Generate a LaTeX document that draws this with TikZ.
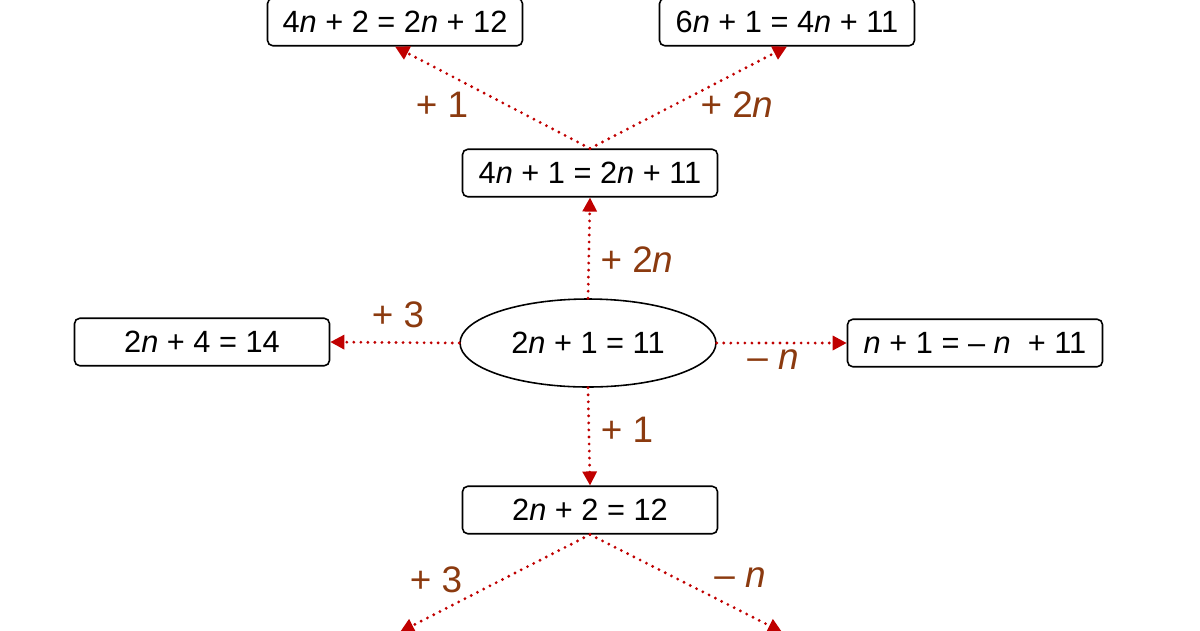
\documentclass[tikz,border=0pt]{standalone}
\usepackage{fontspec}
\setmainfont{Liberation Sans}
\usetikzlibrary{shapes.geometric,arrows.meta}
\begin{document}
\begin{tikzpicture}[x=0.02cm,y=-0.02cm,
  eq/.style={draw,rounded corners=3pt,line width=0.9pt,minimum width=5.1cm,minimum height=0.95cm,font=\fontsize{17.5}{19}\selectfont,inner sep=0pt},
  ell/.style={draw,ellipse,line width=0.9pt,minimum width=5.12cm,minimum height=1.76cm,font=\fontsize{17.5}{19}\selectfont},
  arr/.style={draw={rgb,255:red,192;green,0;blue,0},line width=1.8pt,dash pattern=on 0pt off 4pt,line cap=round,-{Triangle[length=8pt,width=8pt,line cap=butt]}},
  lab/.style={text={rgb,255:red,139;green,58;blue,15},font=\fontsize{21}{24}\selectfont}]
\useasboundingbox (0,0) rectangle (1200,630);
\node[eq] (tl) at (395,22) {4\textit{n} + 2 = 2\textit{n} + 12};
\node[eq] (tr) at (787,22) {6\textit{n} + 1 = 4\textit{n} + 11};
\node[eq] (mt) at (590,173) {4\textit{n} + 1 = 2\textit{n} + 11};
\node[ell] (c) at (588,343) {2\textit{n} + 1 = 11};
\node[eq] (l) at (202,342) {2\textit{n} + 4 = 14};
\node[eq] (r) at (975,343) {\textit{n} + 1 = -- \textit{n}\ \ + 11};
\node[eq] (b) at (590,510) {2\textit{n} + 2 = 12};
\coordinate (bl) at (400,632);
\coordinate (br) at (782,632);
\draw[arr] (mt.north) -- (tl.south);
\draw[arr] (mt.north) -- (tr.south);
\draw[arr] (c.north) -- (mt.south);
\draw[arr] (c.west) -- (l.east);
\draw[arr] (c.east) -- (r.west);
\draw[arr] (c.south) -- (b.north);
\draw[arr] (b.south) -- (bl);
\draw[arr] (b.south) -- (br);
\node[lab] at (442,105) {+ 1};
\node[lab] at (737,105) {+ 2\textit{n}};
\node[lab] at (637,260) {+ 2\textit{n}};
\node[lab] at (398,315) {+ 3};
\node[lab] at (773,360) {-- \textit{n}};
\node[lab] at (627,430) {+ 1};
\node[lab] at (436,580) {+ 3};
\node[lab] at (740,578) {-- \textit{n}};
\end{tikzpicture}
\end{document}
